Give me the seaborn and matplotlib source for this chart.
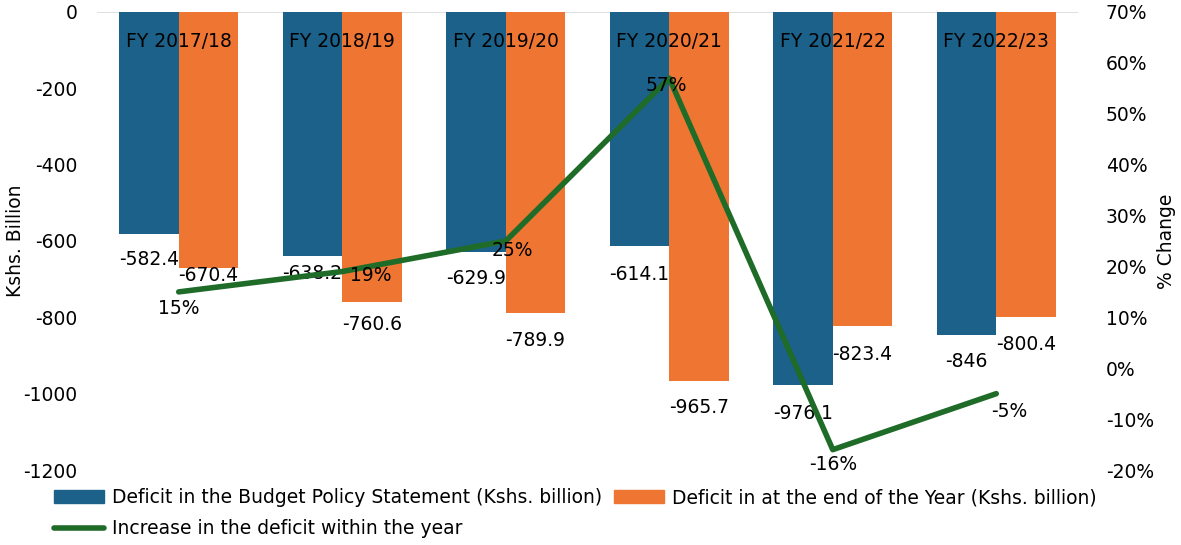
import numpy as np
import pandas as pd
import seaborn as sns
import matplotlib.pyplot as plt
from matplotlib.ticker import MultipleLocator, PercentFormatter
from matplotlib.patches import Patch
from matplotlib.lines import Line2D

# data
years = ["FY 2017/18", "FY 2018/19", "FY 2019/20", "FY 2020/21", "FY 2021/22", "FY 2022/23"]
bps_deficit = [-582.4, -638.2, -629.9, -614.1, -976.1, -846]
year_end_deficit = [-670.4, -760.6, -789.9, -965.7, -823.4, -800.4]
pct_increase = [0.15, 0.19, 0.25, 0.57, -0.16, -0.05]

bps_name = "Deficit in the Budget Policy Statement (Kshs. billion)"
end_name = "Deficit in at the end of the Year (Kshs. billion)"
line_name = "Increase in the deficit within the year"

blue = "#1B6189"
orange = "#EF7533"
green = "#1F6B28"

# label placement (pixels below bar end / offset from point), as in the source chart
bps_lab_off = [25, 18, 26, 28, 29, 27]
end_lab_off = [8, 22, 27, 27, 28, 27]
pct_lab_off = [(0, 17), (29, 4), (7, 10), (-3, 7), (0, 15), (13, 18)]

df = pd.DataFrame({
    "year": years * 2,
    "deficit": bps_deficit + year_end_deficit,
    "series": [bps_name] * len(years) + [end_name] * len(years),
})

sns.set_style("white")
plt.rcParams["font.family"] = ["DejaVu Sans"]
plt.rcParams["axes.unicode_minus"] = False
plt.rcParams["text.color"] = "black"
plt.rcParams["axes.labelcolor"] = "black"
plt.rcParams["ytick.color"] = "black"
fs = 13.5
px = 0.72  # points per pixel at 100 dpi

fig = plt.figure(figsize=(11.81, 5.45), dpi=100)
ax = fig.add_axes([0.0821, 0.1376, 0.8307, 0.8404])

sns.barplot(data=df, x="year", y="deficit", hue="series", palette=[blue, orange],
            width=0.73, saturation=1, legend=False, linewidth=0, ax=ax)
for cont, vals, offs in zip(ax.containers, [bps_deficit, year_end_deficit],
                            [bps_lab_off, end_lab_off]):
    for bar, v, o in zip(cont.patches, vals, offs):
        ax.annotate(f"{v:g}", (bar.get_x() + bar.get_width() / 2, bar.get_height()),
                    xytext=(0, -o * px), textcoords="offset points",
                    ha="center", va="center", fontsize=fs)

ax.set_ylim(-1200, 0)
ax.set_xlim(-0.5, len(years) - 0.5)
ax.yaxis.set_major_locator(MultipleLocator(200))
ax.tick_params(axis="y", length=0, pad=14, labelsize=fs)
ax.tick_params(axis="x", length=0, labelbottom=False)
ax.set_xlabel("")
ax.set_ylabel("Kshs. Billion", fontsize=fs, labelpad=-1)
ax.axhline(0, color="#d9d9d9", lw=1.2, zorder=0)
for s in ax.spines.values():
    s.set_visible(False)

# category names along the top, inside the plot
for i, y in enumerate(years):
    ax.annotate(y, (i, 0), xytext=(0, -30 * px), textcoords="offset points",
                ha="center", va="center", fontsize=fs)

ax2 = ax.twinx()
sns.lineplot(x=years, y=pct_increase, color=green, linewidth=4, sort=False, ax=ax2)
for i, (p, (dx, dy)) in enumerate(zip(pct_increase, pct_lab_off)):
    ax2.annotate(f"{p:.0%}", (i, p), xytext=(dx * px, -dy * px), textcoords="offset points",
                 ha="center", va="center", fontsize=fs)
ax2.set_ylim(-0.2, 0.7)
ax2.yaxis.set_major_locator(MultipleLocator(0.1))
ax2.yaxis.set_major_formatter(PercentFormatter(1, decimals=0))
ax2.tick_params(axis="y", length=0, pad=20, labelsize=fs)
ax2.set_ylabel("% Change", fontsize=fs, labelpad=2)
for s in ax2.spines.values():
    s.set_visible(False)

handles = [Patch(color=blue), Line2D([], [], color=green, lw=4), Patch(color=orange)]
labels = [bps_name, line_name, end_name]
fig.legend(handles, labels, ncol=2, loc="upper center", bbox_to_anchor=(0.487, 0.111),
           frameon=False, fontsize=fs, handlelength=2.67, handleheight=0.7,
           columnspacing=0.64, handletextpad=0.43, labelspacing=0.65,
           borderaxespad=0, borderpad=0.2)

fig.savefig("out.png", dpi=100)
